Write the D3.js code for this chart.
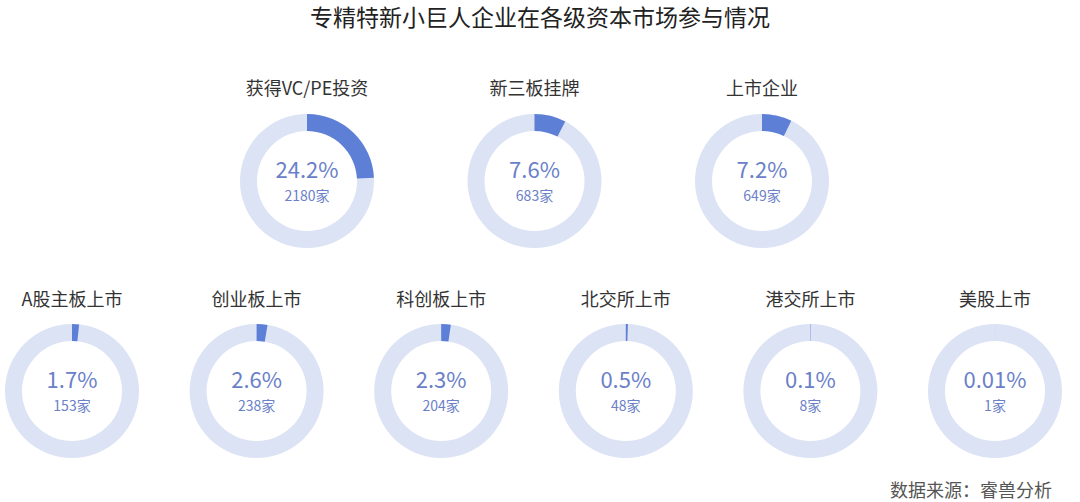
<!DOCTYPE html>
<html><head><meta charset="utf-8">
<script src="https://cdn.jsdelivr.net/npm/d3@7"></script>
<style>
html,body{margin:0;padding:0;background:#fff;}
svg{display:block;font-family:"Noto Sans CJK SC","Noto Sans",sans-serif;}
</style></head>
<body><svg id="c" width="1080" height="502"></svg>
<script>
const title = "专精特新小巨人企业在各级资本市场参与情况";
const source = "数据来源：睿兽分析";
const topLabels = ["获得VC/PE投资", "新三板挂牌", "上市企业"];
const topPercents = [24.2, 7.6, 7.2];
const topPercentText = ["24.2%", "7.6%", "7.2%"];
const topCounts = [2180, 683, 649];
const bottomLabels = ["A股主板上市", "创业板上市", "科创板上市", "北交所上市", "港交所上市", "美股上市"];
const bottomPercents = [1.7, 2.6, 2.3, 0.5, 0.1, 0.01];
const bottomPercentText = ["1.7%", "2.6%", "2.3%", "0.5%", "0.1%", "0.01%"];
const bottomCounts = [153, 238, 204, 48, 8, 1];

const svg = d3.select("#c");
svg.append("text").attr("x", 540).attr("y", 26).attr("text-anchor", "middle")
  .attr("font-size", 23).attr("fill", "#222").text(title);
svg.append("text").attr("x", 1052).attr("y", 497).attr("text-anchor", "end")
  .attr("font-size", 18).attr("fill", "#555").text(source);

const angle = d3.scaleLinear().domain([0, 100]).range([0, 2 * Math.PI]);
const outerR = 67, innerR = 50;
const arcBg = d3.arc().innerRadius(innerR).outerRadius(outerR).startAngle(0).endAngle(2 * Math.PI);
const arcFg = d3.arc().innerRadius(innerR).outerRadius(outerR).startAngle(0);

function drawRow(labels, pcts, ptxt, counts, xs, cy, labelY) {
  labels.forEach((lab, i) => {
    const g = svg.append("g").attr("transform", `translate(${xs(i)},${cy})`);
    g.append("path").attr("d", arcBg()).attr("fill", "#dce3f4");
    g.append("path").attr("d", arcFg({endAngle: angle(pcts[i])})).attr("fill", "#5d7fd6");
    g.append("text").attr("y", -13).attr("text-anchor", "middle").attr("font-size", 22)
      .attr("fill", "#6a80c8").attr("dominant-baseline", "central").text(ptxt[i]);
    g.append("text").attr("y", 14).attr("text-anchor", "middle").attr("font-size", 14)
      .attr("fill", "#6a80c8").attr("dominant-baseline", "central").text(counts[i] + "家");
    svg.append("text").attr("x", xs(i)).attr("y", labelY).attr("text-anchor", "middle")
      .attr("font-size", 18).attr("fill", "#333").text(lab);
  });
}
const xTop = d3.scalePoint().domain(d3.range(topLabels.length)).range([307, 762]);
const xBot = d3.scalePoint().domain(d3.range(bottomLabels.length)).range([72, 995]);
drawRow(topLabels, topPercents, topPercentText, topCounts, xTop, 181, 95);
drawRow(bottomLabels, bottomPercents, bottomPercentText, bottomCounts, xBot, 391, 306);
</script></body></html>
